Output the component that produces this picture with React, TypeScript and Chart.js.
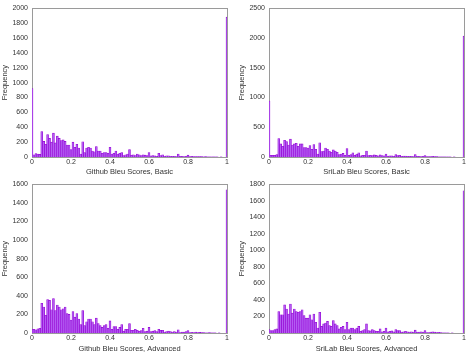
import React, { useEffect, useRef } from "react";
import { Chart, registerables } from "chart.js";
Chart.register(...registerables);

// bin centres 0.00 .. 1.00, step 0.01
const binCenters: number[] = Array.from({ length: 101 }, (_, i) => i / 100);

const githubBasic = [
  920, 30, 45, 40, 35, 340, 210, 170, 300, 250,
  200, 320, 190, 280, 250, 220, 230, 210, 160, 160,
  100, 200, 130, 170, 120, 40, 205, 60, 120, 130,
  120, 80, 70, 140, 80, 80, 50, 60, 60, 50,
  130, 40, 50, 80, 40, 50, 60, 20, 30, 40,
  100, 25, 30, 20, 40, 30, 20, 30, 25, 20,
  60, 15, 20, 15, 10, 50, 20, 30, 10, 15,
  15, 10, 10, 10, 5, 40, 10, 10, 5, 10,
  25, 5, 8, 5, 6, 5, 4, 5, 3, 4,
  2, 3, 1, 2, 1, 1, 0, 1, 0, 0,
  1880,
];

const srilabBasic = [
  940, 30, 30, 30, 40, 310, 220, 180, 280, 260,
  200, 300, 200, 220, 230, 180, 220, 220, 160, 160,
  150, 190, 130, 210, 130, 50, 240, 90, 100, 150,
  130, 100, 80, 120, 100, 80, 40, 50, 60, 30,
  140, 30, 40, 70, 30, 50, 70, 20, 30, 30,
  100, 25, 30, 25, 35, 30, 20, 35, 25, 20,
  50, 15, 20, 20, 10, 40, 25, 30, 10, 15,
  15, 10, 10, 10, 5, 40, 10, 10, 5, 10,
  25, 5, 5, 5, 10, 5, 5, 3, 4, 2,
  2, 1, 1, 1, 0, 1, 0, 0, 0, 0,
  2030,
];

const githubAdvanced = [
  40, 40, 35, 45, 50, 320, 280, 190, 360, 350,
  250, 370, 240, 300, 280, 250, 260, 280, 210, 200,
  140, 230, 170, 210, 150, 90, 240, 80, 120, 150,
  150, 120, 90, 160, 100, 80, 60, 80, 90, 50,
  130, 40, 70, 70, 40, 60, 90, 20, 40, 40,
  100, 30, 30, 40, 30, 20, 25, 50, 15, 20,
  60, 15, 20, 25, 15, 40, 30, 30, 10, 15,
  20, 15, 10, 15, 10, 35, 5, 10, 10, 15,
  25, 5, 8, 5, 10, 5, 6, 4, 5, 3,
  2, 4, 2, 1, 1, 0, 1, 0, 0, 0,
  1540,
];

const srilabAdvanced = [
  40, 30, 30, 40, 50, 260, 220, 220, 340, 290,
  230, 350, 240, 290, 260, 250, 260, 280, 210, 180,
  180, 220, 160, 230, 130, 60, 250, 80, 110, 120,
  140, 90, 80, 150, 110, 90, 50, 70, 80, 40,
  130, 40, 60, 60, 40, 60, 80, 20, 30, 40,
  110, 30, 25, 40, 30, 20, 20, 50, 15, 20,
  60, 15, 20, 25, 15, 40, 30, 30, 10, 15,
  20, 15, 10, 15, 10, 35, 10, 10, 15, 10,
  30, 5, 5, 10, 15, 10, 5, 8, 4, 3,
  2, 1, 1, 0, 1, 0, 0, 0, 0, 0,
  1720,
];

const xTicks = [0, 0.2, 0.4, 0.6, 0.8, 1];

const FONT = "'Liberation Sans', Arial, sans-serif";

const framePlugin = {
  id: "frame",
  beforeDatasetsDraw(chart: any) {
    const { ctx, chartArea } = chart;
    ctx.save();
    ctx.strokeStyle = "#9a9a9a";
    ctx.lineWidth = 1;
    ctx.strokeRect(
      Math.round(chartArea.left) + 0.5,
      Math.round(chartArea.top) + 0.5,
      Math.round(chartArea.right - chartArea.left),
      Math.round(chartArea.bottom - chartArea.top)
    );
    ctx.restore();
  },
};

function Panel(props: {
  title: string;
  values: number[];
  yMax: number;
  yStep: number;
  width: number;
  height: number;
}) {
  const ref = useRef<HTMLCanvasElement | null>(null);
  useEffect(() => {
    if (!ref.current) return;
    const data = binCenters.map((x, i) => ({ x, y: props.values[i] }));
    const chart = new Chart(ref.current, {
      type: "bar",
      data: {
        datasets: [
          {
            data: data as any,
            backgroundColor: "#b35cf2",
            borderColor: "#9400d3",
            borderWidth: 0.6,
            barPercentage: 1,
            categoryPercentage: 1,
            clip: 0 as any,
          },
        ],
      },
      options: {
        animation: false,
        responsive: false,
        devicePixelRatio: 1,
        layout: { padding: { top: 5, right: 10, left: 0, bottom: 0 } },
        plugins: { legend: { display: false }, tooltip: { enabled: false } },
        scales: {
          x: {
            type: "linear",
            min: 0,
            max: 1,
            offset: false,
            grid: { display: false, drawTicks: false, tickLength: 0 },
            border: { display: false },
            afterBuildTicks: (s: any) => {
              s.ticks = xTicks.map((v) => ({ value: v }));
            },
            afterFit: (s: any) => {
              s.height = props.height - 157;
            },
            ticks: {
              padding: 1,
              maxRotation: 0,
              autoSkip: false,
              color: "#333",
              font: { family: FONT, size: 7 },
              callback: (v: any) => String(Math.round(Number(v) * 10) / 10),
            },
            title: {
              display: true,
              text: props.title,
              color: "#333",
              padding: 0,
              font: { family: FONT, size: 7.5 },
            },
          },
          y: {
            type: "linear",
            min: 0,
            max: props.yMax,
            grid: { display: false, drawTicks: false, tickLength: 0 },
            border: { display: false },
            afterFit: (s: any) => {
              s.width = 32;
            },
            ticks: {
              stepSize: props.yStep,
              padding: 4,
              color: "#333",
              font: { family: FONT, size: 7 },
              callback: (v: any) => String(v),
            },
            title: {
              display: true,
              text: "Frequency",
              color: "#333",
              padding: 0,
              font: { family: FONT, size: 7.5 },
            },
          },
        },
      },
      plugins: [framePlugin],
    });
    return () => chart.destroy();
  }, []);
  return (
    <canvas
      ref={ref}
      width={props.width}
      height={props.height}
      style={{ display: "block", width: props.width, height: props.height }}
    />
  );
}

export default function App() {
  return (
    <div
      style={{
        position: "absolute",
        left: 0,
        top: 0,
        width: 474,
        height: 353,
        background: "#fff",
        display: "grid",
        gridTemplateColumns: "237px 237px",
        gridTemplateRows: "176px 177px",
      }}
    >
      <Panel title="Github Bleu Scores, Basic" values={githubBasic} yMax={2000} yStep={200} width={237} height={176} />
      <Panel title="SriLab Bleu Scores, Basic" values={srilabBasic} yMax={2500} yStep={500} width={237} height={176} />
      <Panel title="Github Bleu Scores, Advanced" values={githubAdvanced} yMax={1600} yStep={200} width={237} height={177} />
      <Panel title="SriLab Bleu Scores, Advanced" values={srilabAdvanced} yMax={1800} yStep={200} width={237} height={177} />
    </div>
  );
}
